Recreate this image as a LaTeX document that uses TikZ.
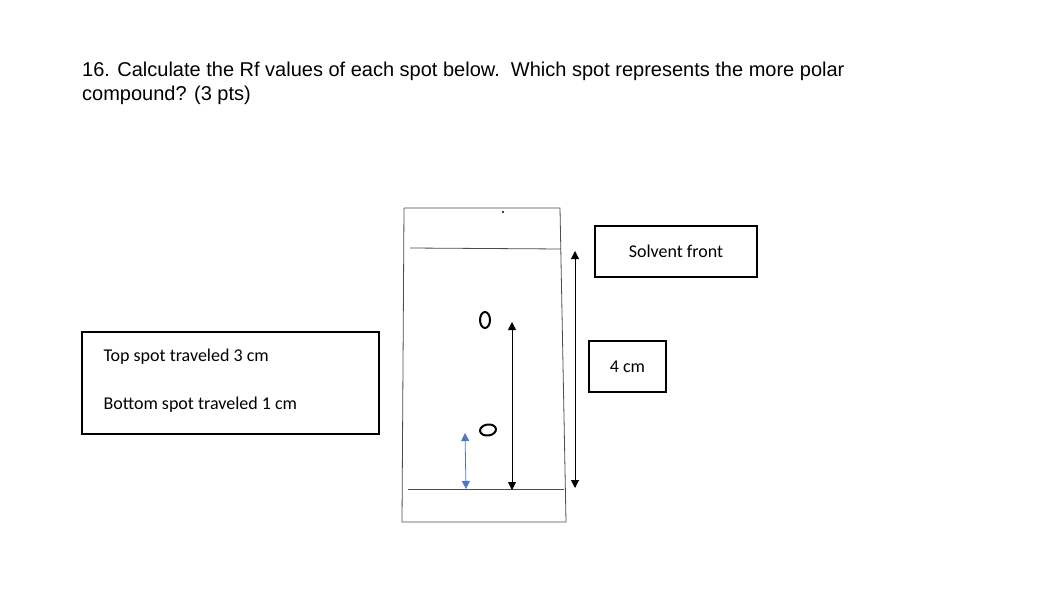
\documentclass[tikz,border=0pt]{standalone}
\usepackage{fontspec}
\setmainfont{Liberation Sans}
\newfontfamily\carfont{Carlito}
\usetikzlibrary{arrows.meta}
\begin{document}
\begin{tikzpicture}[x=1pt,y=-1pt,
  lbl/.style={draw,line width=1.2pt,font=\carfont\fontsize{18}{22}\selectfont},
  plate/.style={draw=black!70,line width=0.8pt},
  dim/.style={line width=0.8pt,{Triangle[length=8pt,width=8pt]}-{Triangle[length=8pt,width=8pt]}}]
\useasboundingbox (0,0) rectangle (1060,604);
\node[anchor=north west,align=left,font=\fontsize{20}{24}\selectfont,inner sep=0pt] (title) at (82,62)
 {16. Calculate the Rf values of each spot below.\ \ Which spot represents the more polar\\compound? (3 pts)};
% plate
\draw[plate] (404,208) -- (560,208) -- (566,522) -- (402,522) -- cycle;
\coordinate (s1) at (410,248); \coordinate (s2) at (561,249);
\coordinate (b1) at (408,489); \coordinate (b2) at (564,489);
\draw[plate] (s1) -- (s2);
\draw[plate] (b1) -- (b2);
\fill (503,212) circle (1.2pt);
\draw[line width=2pt] (485,320) ellipse (5pt and 8pt);
\draw[line width=2pt,rotate around={8:(488,430)}] (488,430) ellipse (8pt and 5.5pt);
% arrows
\coordinate (a1) at (512,322); \coordinate (a2) at (512,490);
\draw[dim] (a1) -- (a2);
\coordinate (r1) at (575,251); \coordinate (r2) at (575,488);
\draw[dim] (r1) -- (r2);
\coordinate (c1) at (465,433); \coordinate (c2) at (466,489);
\draw[dim,color={rgb,255:red,80;green,120;blue,200}] (c1) -- (c2);
% boxes
\node[lbl,minimum width=162pt,minimum height=51pt] (sf) at (676,251.5) {Solvent front};
\node[lbl,minimum width=77pt,minimum height=51pt] (fc) at (627.5,366.5) {4 cm};
\node[lbl,minimum width=297pt,minimum height=102pt] (lb) at (230.5,383) {};
\node[font=\carfont\fontsize{18}{22}\selectfont,anchor=west] (t1) at (100,357) {Top spot traveled 3 cm};
\node[font=\carfont\fontsize{18}{22}\selectfont,anchor=west] (t2) at (100,405) {Bottom spot traveled 1 cm};
\end{tikzpicture}
\end{document}
